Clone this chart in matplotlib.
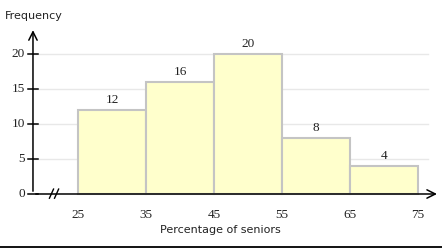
import matplotlib.pyplot as plt

# date histograma
edges = [25, 35, 45, 55, 65, 75]
freq = [12, 16, 20, 8, 4]
y_ticks = [0, 5, 10, 15, 20]

fig = plt.figure(figsize=(4.42, 2.5), dpi=100)
ax = fig.add_axes([0, 0, 1, 1])
ax.set_xlim(13.53, 78.53)
ax.set_ylim(-8.0, 27.71)
ax.axis('off')

x_ax = 18.38  # pozitia axei y
x_end = 78.2
y_end = 23.8

# linii de grila
for t in y_ticks[1:]:
    ax.plot([x_ax, 76.5], [t, t], color='#e8e8e8', lw=1, zorder=0)

# bare
lefts = edges[:-1]
widths = [edges[i + 1] - edges[i] for i in range(len(freq))]
ax.bar(lefts, freq, width=widths, align='edge', color='#ffffcc',
       edgecolor='#c4c4c4', linewidth=1.5, zorder=2)
for l, w, f in zip(lefts, widths, freq):
    ax.text(l + w / 2, f + 0.6, str(f), ha='center', va='bottom',
            family='Liberation Serif', fontsize=9.5, color='#222222')

# axe
ax.annotate('', xy=(x_ax, y_end), xytext=(x_ax, 0),
            arrowprops=dict(arrowstyle='->,head_length=0.6,head_width=0.3', lw=1.1, color='black'))
ax.annotate('', xy=(x_end, 0), xytext=(x_ax, 0),
            arrowprops=dict(arrowstyle='->,head_length=0.6,head_width=0.3', lw=1.1, color='black'),
            zorder=3)

# marcaje pe axa y
for t in y_ticks:
    ax.plot([x_ax - 0.7, x_ax + 0.7], [t, t], color='black', lw=1.1)
    ax.text(x_ax - 1.2, t, str(t), ha='right', va='center',
            family='Liberation Serif', fontsize=9.5, color='#222222')

# etichete axa x
for e in edges:
    ax.text(e, -3.0, str(e), ha='center', va='center',
            family='Liberation Serif', fontsize=9.5, color='#222222')

# semnul de intrerupere //
for dx in [0, 0.75]:
    ax.plot([20.8 + dx, 21.4 + dx], [-0.6, 0.7], color='black', lw=1)

ax.text(46.0, -5.2, 'Percentage of seniors', ha='center', va='center',
        family='DejaVu Sans', fontsize=8, color='#222222')
ax.text(14.2, 25.4, 'Frequency', ha='left', va='center',
        family='DejaVu Sans', fontsize=8, color='#222222')

# linia de jos
ax.plot([13.53, 78.53], [-7.57, -7.57], color='black', lw=1.3, clip_on=False)

fig.savefig('out.png', dpi=100)
